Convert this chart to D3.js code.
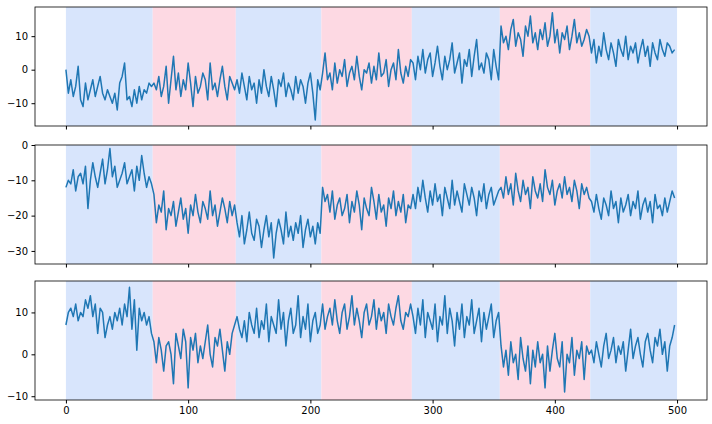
<!DOCTYPE html>
<html>
<head>
<meta charset="utf-8">
<script src="https://d3js.org/d3.v7.min.js"></script>
<style>
  body { margin: 0; background: #fff; }
  text { font-family: "DejaVu Sans", sans-serif; }
</style>
</head>
<body>
<div id="chart"></div>
<script>
// change points (segment boundaries) and sample step of the signals
const bkps = [0, 71, 139, 209, 283, 355, 429, 500];
const step = 2;

const signal1 = [
  0,-7,-3,-8,-5,1,-9,-11,-4,-9,-6,-3,-8,-5,-2,-7,-9,-6,-8,-10,-7,-12,-4,-2,2,-9,-8,-11,-6,-10,-5,-9,-6,-7,-4,-5,
  -4,-6,-2,-8,-5,1,-10,-3,4,-6,-1,-8,-3,-6,2,-4,-11,-2,-7,-5,-1,-3,-9,2,-6,-4,-8,-3,1,-5,-9,-2,-4,-6,
  -3,-7,-1,-5,-9,-2,-6,-4,-10,-3,-7,0,-5,-8,-2,-6,-11,-3,-5,-1,-8,-4,-6,-9,-2,-7,-3,-5,-10,-4,-1,-7,-15,-3,-6,
  -1,5,-3,-1,-6,2,-4,0,-2,3,-5,-1,1,-3,4,-2,-6,0,-1,2,-4,1,-3,5,-2,-1,3,-5,0,2,-3,6,-1,-4,1,-2,3,
  2,-3,4,0,6,-1,3,5,-2,2,7,1,-3,4,0,3,8,-1,2,5,-4,3,1,6,-2,4,9,0,2,-1,5,3,-3,6,1,-3,
  13,8,10,6,12,15,7,11,9,4,13,10,16,8,11,6,12,9,14,7,10,17,8,12,5,11,9,13,6,10,15,8,11,7,9,12,10,
  5,9,2,7,4,11,6,3,8,5,1,9,6,4,10,3,7,5,8,2,6,9,4,7,1,8,5,3,9,6,4,8,7,5,6
];
const signal2 = [
  -12,-10,-11,-7,-13,-9,-8,-11,-6,-18,-10,-5,-9,-12,-8,-4,-11,-7,-1,-9,-6,-12,-10,-8,-5,-11,-9,-7,-13,-6,-10,-3,-8,-12,-9,-11,
  -14,-22,-17,-19,-13,-24,-18,-20,-16,-23,-19,-15,-21,-18,-25,-17,-20,-14,-19,-22,-16,-18,-21,-13,-20,-17,-23,-19,-15,-18,-22,-16,-20,-17,
  -22,-26,-20,-28,-24,-19,-25,-27,-21,-23,-29,-24,-20,-26,-22,-32,-25,-21,-24,-28,-19,-26,-23,-27,-22,-25,-20,-29,-24,-21,-26,-23,-28,-22,-25,
  -12,-16,-14,-19,-13,-21,-17,-15,-20,-18,-14,-22,-16,-19,-13,-17,-24,-15,-18,-20,-12,-16,-21,-14,-19,-17,-23,-15,-18,-13,-20,-16,-19,-14,-22,-17,-18,
  -14,-18,-12,-16,-10,-15,-19,-13,-17,-11,-16,-14,-20,-12,-15,-18,-10,-17,-13,-16,-19,-11,-14,-17,-12,-15,-20,-13,-16,-11,-18,-14,-12,-17,-15,-13,
  -12,-15,-9,-14,-11,-17,-8,-13,-16,-10,-14,-12,-18,-9,-13,-15,-11,-16,-7,-12,-14,-10,-17,-13,-11,-15,-9,-14,-12,-16,-10,-13,-18,-11,-14,-12,-15,
  -16,-19,-14,-18,-21,-15,-17,-20,-13,-18,-16,-22,-15,-19,-17,-14,-20,-16,-18,-13,-21,-17,-15,-19,-16,-22,-14,-18,-17,-20,-15,-19,-16,-13,-15
];
const signal3 = [
  7,10,11,9,12,8,10,9,13,11,14,9,12,5,11,10,4,7,9,6,10,8,11,7,12,9,16,6,13,1,11,8,10,7,9,5,
  3,-2,4,1,-4,2,3,0,-7,5,2,-1,6,3,-8,4,1,5,-2,2,-1,3,7,0,-3,4,2,6,1,-4,3,0,5,7,
  9,6,4,8,3,10,7,5,11,4,8,6,12,3,9,7,5,13,6,10,2,8,11,5,7,14,4,9,6,12,3,8,10,5,7,
  12,6,9,11,7,13,8,5,10,12,6,9,14,7,11,8,4,10,12,7,9,13,6,11,8,10,5,12,9,7,11,14,8,6,10,9,12,
  9,5,11,7,13,4,10,8,6,12,3,9,7,14,5,11,8,2,10,6,12,4,9,7,13,5,8,11,3,10,6,9,12,4,8,10,
  2,-3,1,-5,3,-2,0,-6,4,-1,-4,2,-7,1,-3,3,-2,0,-8,2,-4,1,5,-1,-3,3,-9,0,-2,4,-5,1,-1,3,-6,2,0,
  1,-2,3,0,-3,2,5,-1,1,4,-2,2,0,3,-4,1,6,-1,2,4,0,-3,3,5,1,-2,4,2,6,0,3,-4,2,4,7
];

const panels = [
  { data: signal1, yDomain: [-16.8, 18.7], ticks: [-10, 0, 10], top: 7 },
  { data: signal2, yDomain: [-33.7, 0], ticks: [-30, -20, -10, 0], top: 145 },
  { data: signal3, yDomain: [-10.9, 17.5], ticks: [-10, 0, 10], top: 281 }
];
const xTicks = [0, 100, 200, 300, 400, 500];

const width = 712, height = 424;
const left = 35, right = 707, panelH = 119;
const segColors = ['#d8e5fc', '#fdd9e3'];

const svg = d3.select('#chart').append('svg')
  .attr('width', width).attr('height', height);

const x = d3.scaleLinear().domain([-25.3, 524.5]).range([left, right]);

panels.forEach((p, k) => {
  const y = d3.scaleLinear().domain(p.yDomain).range([p.top + panelH, p.top]);
  const g = svg.append('g');

  for (let i = 0; i < bkps.length - 1; i++) {
    g.append('rect')
      .attr('x', x(bkps[i])).attr('width', x(bkps[i + 1]) - x(bkps[i]))
      .attr('y', p.top).attr('height', panelH)
      .attr('fill', segColors[i % 2]);
  }

  const line = d3.line().x((d, i) => x(i * step)).y(d => y(d));
  g.append('path').datum(p.data)
    .attr('d', line).attr('fill', 'none')
    .attr('stroke', '#1f77b4').attr('stroke-width', 1.5)
    .attr('stroke-linejoin', 'round');

  const yAxis = g.append('g').attr('transform', `translate(${left},0)`)
    .call(d3.axisLeft(y).tickValues(p.ticks).tickSize(3.5).tickPadding(3.5)
      .tickFormat(d => d < 0 ? '\u2212' + Math.abs(d) : d));
  yAxis.select('.domain').remove();
  yAxis.selectAll('text').attr('font-size', 10).attr('fill', '#000')
    .style('font-family', '"DejaVu Sans", sans-serif');

  const xAxis = g.append('g').attr('transform', `translate(0,${p.top + panelH})`)
    .call(d3.axisBottom(x).tickValues(xTicks).tickSize(3.5).tickPadding(3.5));
  xAxis.select('.domain').remove();
  xAxis.selectAll('text').attr('font-size', 10).attr('fill', '#000')
    .style('font-family', '"DejaVu Sans", sans-serif');
  if (k < panels.length - 1) xAxis.selectAll('text').remove();

  g.append('rect')
    .attr('x', left).attr('y', p.top)
    .attr('width', right - left).attr('height', panelH)
    .attr('fill', 'none').attr('stroke', '#000').attr('stroke-width', 0.8);
});
</script>
</body>
</html>
